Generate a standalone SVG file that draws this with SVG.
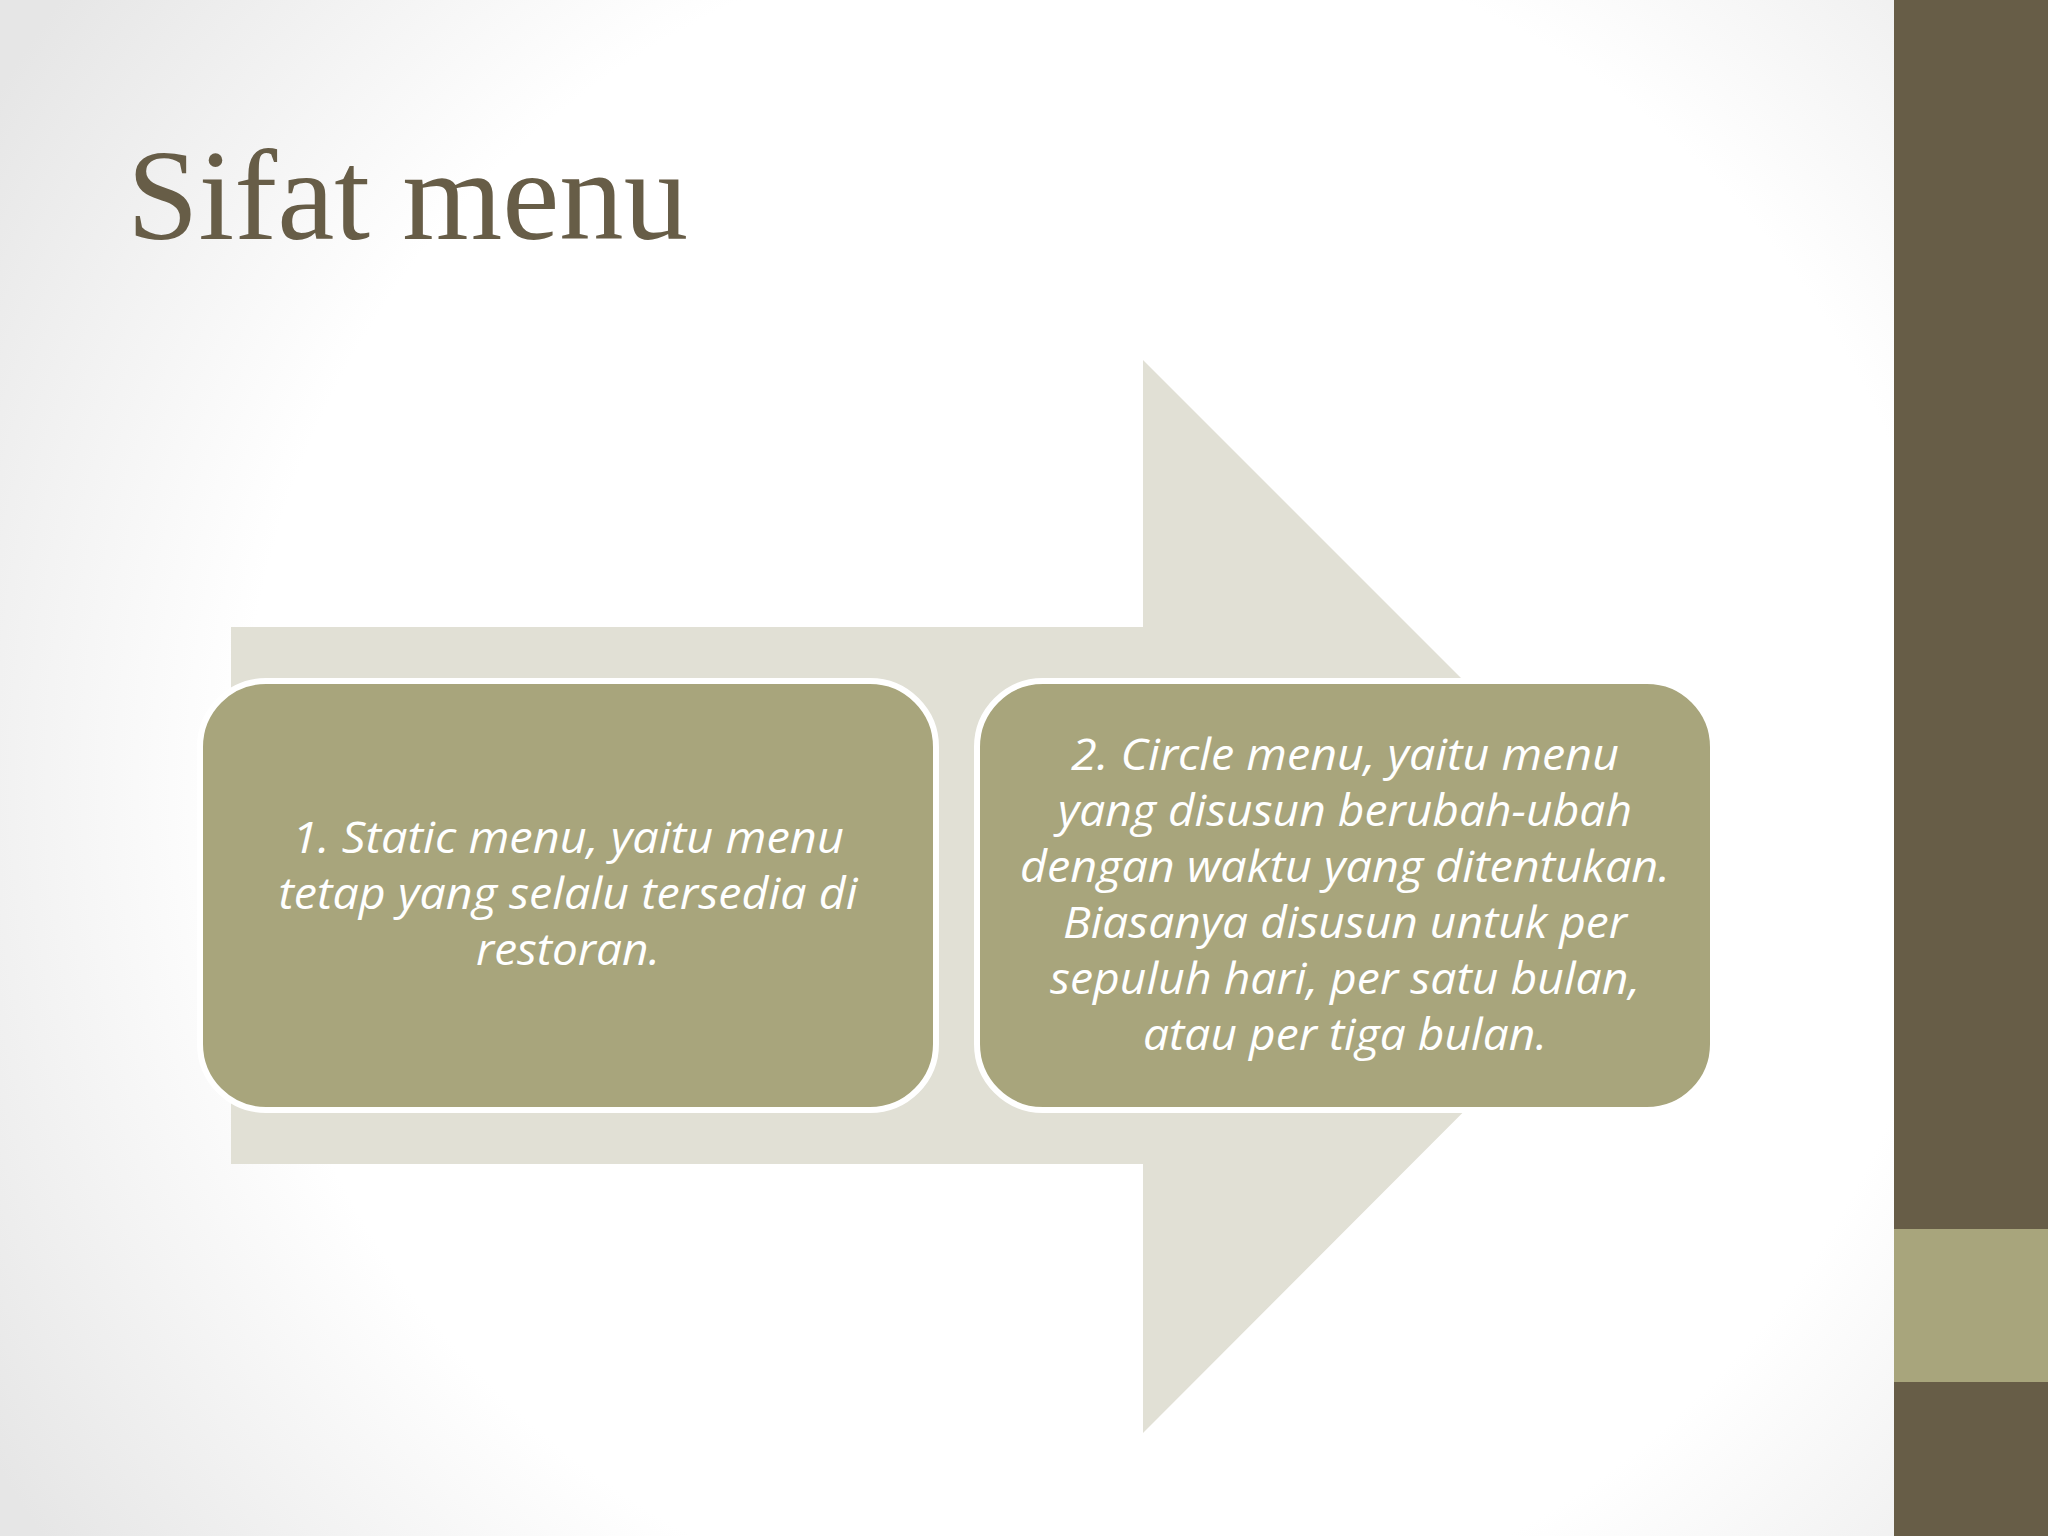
<svg xmlns="http://www.w3.org/2000/svg" width="2048" height="1536" viewBox="0 0 2048 1536">
<defs>
<radialGradient id="bg" gradientUnits="userSpaceOnUse" cx="1100" cy="780" r="1300">
<stop offset="0" stop-color="#ffffff"/>
<stop offset="0.66" stop-color="#ffffff"/>
<stop offset="1" stop-color="#e6e6e6"/>
</radialGradient>
<style>
.title{font-family:"Liberation Serif","DejaVu Serif",serif;font-size:130px;fill:#675d47;}
.box{fill:#a8a57c;stroke:#ffffff;stroke-width:6;}
.txt{font-family:"Open Sans","Noto Sans","Liberation Sans",sans-serif;font-style:italic;font-size:44px;fill:#ffffff;text-anchor:middle;}
</style>
</defs>
<rect x="0" y="0" width="2048" height="1536" fill="url(#bg)"/>
<g id="sidebar">
<rect x="1894" y="0" width="154" height="1536" fill="#675d47"/>
<rect x="1894" y="1229" width="154" height="153" fill="#a8a57c"/>
</g>
<g id="title">
<text class="title" x="127" y="239" textLength="561" lengthAdjust="spacingAndGlyphs">Sifat menu</text>
</g>
<g id="connectors">
<polygon points="231,627 1143,627 1143,360 1679,896 1143,1433 1143,1164 231,1164" fill="#e1e0d5"/>
</g>
<g id="node1">
<rect class="box" x="200" y="681" width="736" height="429" rx="66" ry="66"/>
<text class="txt" x="568" y="853" textLength="552" lengthAdjust="spacingAndGlyphs">1. Static menu, yaitu menu</text>
<text class="txt" x="568" y="909" textLength="579" lengthAdjust="spacingAndGlyphs">tetap yang selalu tersedia di</text>
<text class="txt" x="568" y="965" textLength="184" lengthAdjust="spacingAndGlyphs">restoran.</text>
</g>
<g id="node2">
<rect class="box" x="977" y="681" width="736" height="429" rx="66" ry="66"/>
<text class="txt" x="1345" y="770" textLength="548" lengthAdjust="spacingAndGlyphs">2. Circle menu, yaitu menu</text>
<text class="txt" x="1345" y="826" textLength="574" lengthAdjust="spacingAndGlyphs">yang disusun berubah-ubah</text>
<text class="txt" x="1345" y="882" textLength="650" lengthAdjust="spacingAndGlyphs">dengan waktu yang ditentukan.</text>
<text class="txt" x="1345" y="938" textLength="564" lengthAdjust="spacingAndGlyphs">Biasanya disusun untuk per</text>
<text class="txt" x="1345" y="994" textLength="590" lengthAdjust="spacingAndGlyphs">sepuluh hari, per satu bulan,</text>
<text class="txt" x="1345" y="1050" textLength="404" lengthAdjust="spacingAndGlyphs">atau per tiga bulan.</text>
</g>
</svg>
